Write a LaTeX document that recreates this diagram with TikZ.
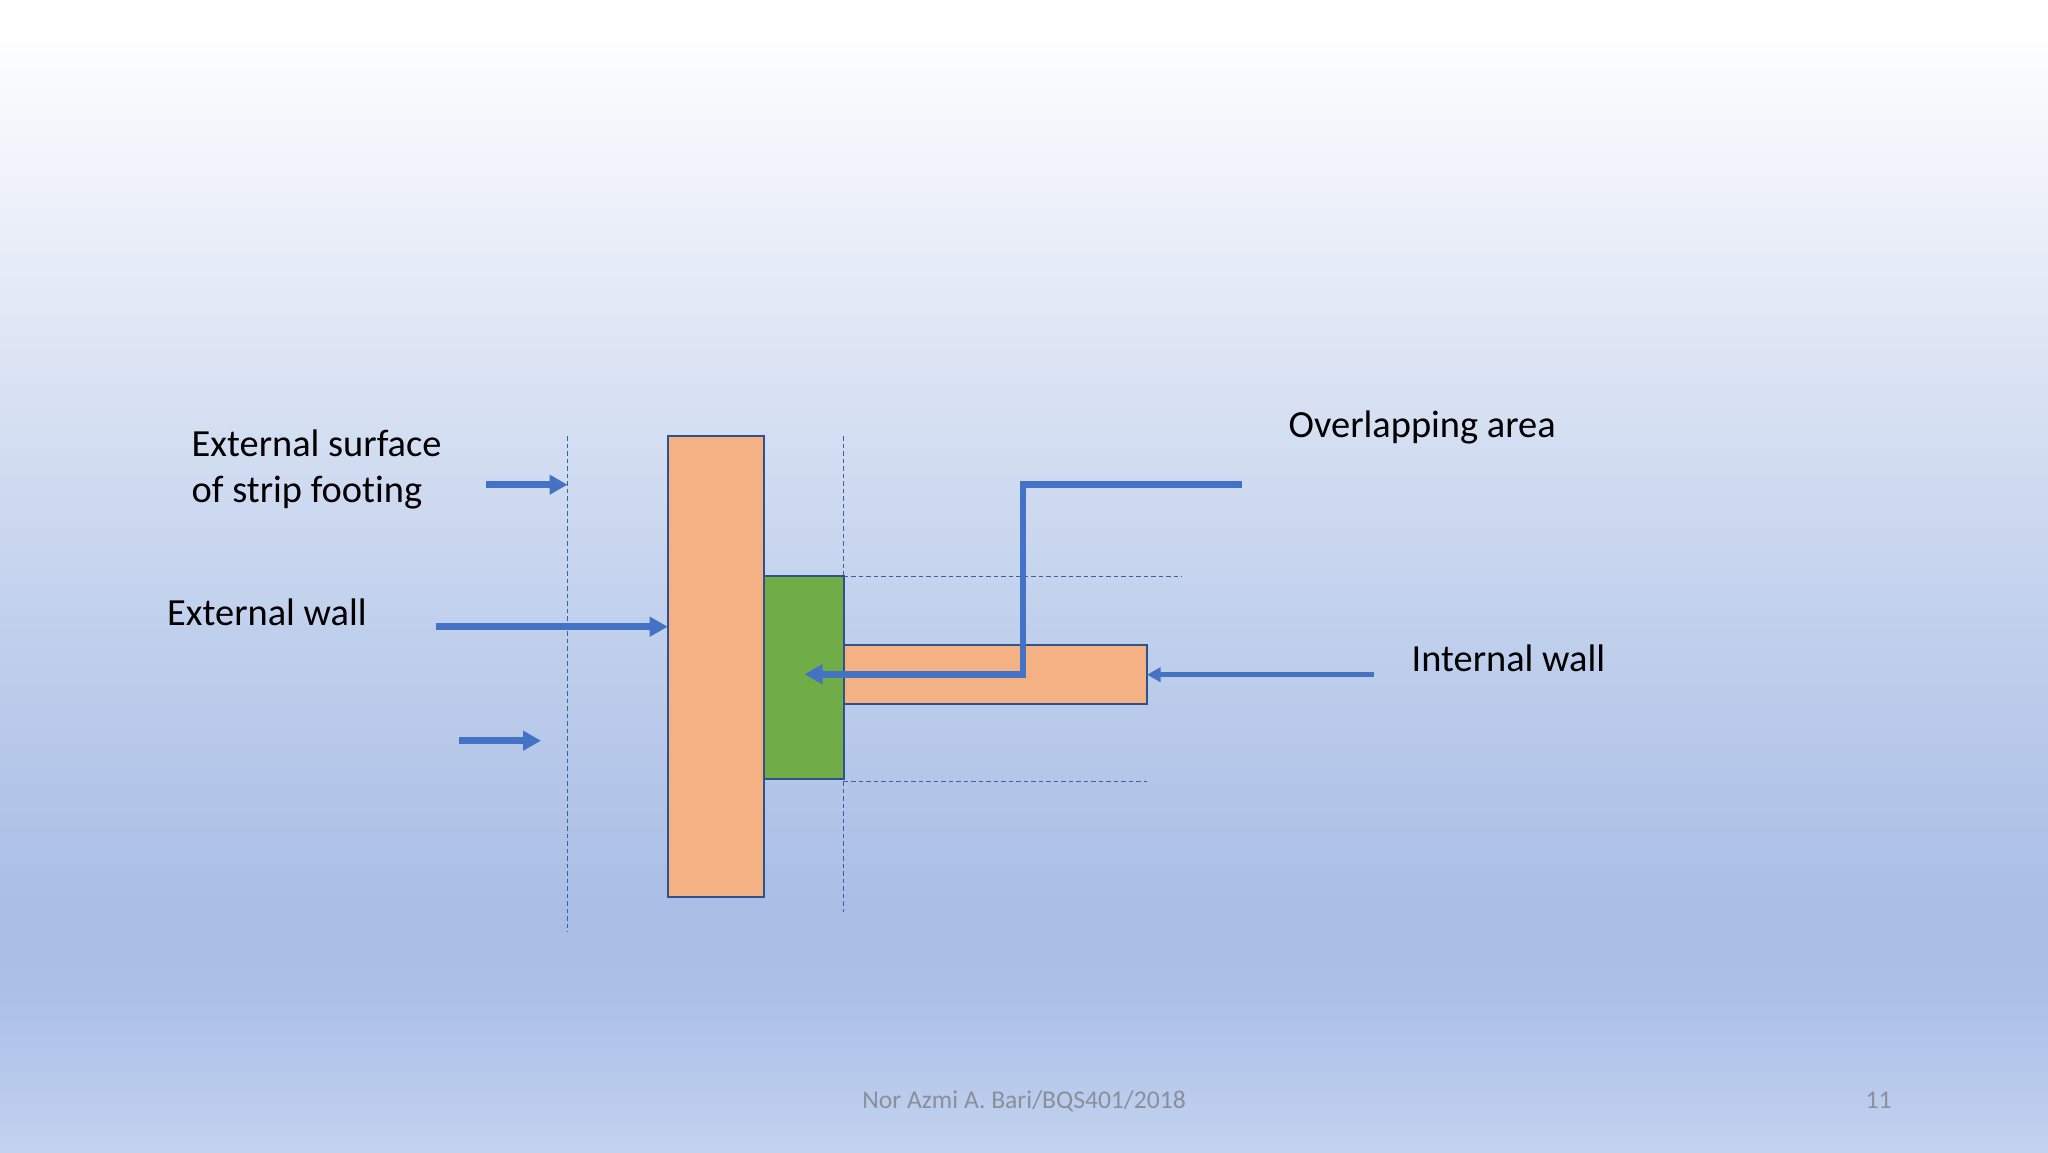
\documentclass[tikz,border=0pt]{standalone}
\usepackage{fontspec}
\setmainfont[RawFeature=-liga]{Carlito}
\usetikzlibrary{arrows.meta}
\definecolor{wallfill}{HTML}{F4B183}
\definecolor{overlap}{HTML}{70AD47}
\definecolor{edge}{HTML}{2F528F}
\definecolor{arrowblue}{HTML}{4472C4}
\definecolor{footgray}{HTML}{8A8F99}
\definecolor{bgA}{HTML}{C2D2EF}
\definecolor{bgB}{HTML}{AEC1E8}
\definecolor{bgC}{HTML}{A9BDE5}
\definecolor{bgD}{HTML}{BFCFEC}
\definecolor{bgE}{HTML}{DCE4F4}
\definecolor{bgF}{HTML}{F5F7FC}
\pgfdeclareverticalshading{slidebg}{100bp}{
 color(0bp)=(bgA);
 color(25bp)=(bgA);
 color(31bp)=(bgB);
 color(35bp)=(bgC);
 color(47.2bp)=(bgD);
 color(59.4bp)=(bgE);
 color(69.8bp)=(bgF);
 color(74bp)=(white);
 color(100bp)=(white)}
\tikzset{
 wall/.style={draw=edge,line width=2pt,fill=wallfill,inner sep=0pt,outer sep=0pt,anchor=north west},
 greenbox/.style={draw=edge,line width=2pt,fill=overlap,inner sep=0pt,outer sep=0pt,anchor=north west},
 guide/.style={draw=arrowblue!85!black,line width=1pt,dash pattern=on 4.5pt off 3pt},
 thickarrow/.style={draw=arrowblue,line width=6.5pt,-{Triangle[length=18pt,width=19pt]}},
 thinarrow/.style={draw=arrowblue,line width=4.8pt,-{Triangle[length=13.5pt,width=14pt]}},
 label/.style={font=\fontsize{38.4}{46}\selectfont,text=black,anchor=base west,inner sep=0pt,align=left},
 foot/.style={font=\fontsize{25.6}{30}\selectfont,text=footgray,anchor=base,inner sep=0pt}
}
\begin{document}
\begin{tikzpicture}[x=1pt,y=-1pt]
\useasboundingbox (0,0) rectangle (2048,1152);
\shade[shading=slidebg] (0,0) rectangle (2048,1152);
\coordinate (gl1) at (567.3,436);
\coordinate (gl2) at (567.3,932);
\coordinate (gr1) at (843.7,436);
\coordinate (gr2) at (843.7,912);
\coordinate (gt1) at (843.7,576);
\coordinate (gt2) at (1182,576);
\coordinate (gb1) at (843.7,781.3);
\coordinate (gb2) at (1147,781.3);
\draw[guide] (gl1) -- (gl2);
\draw[guide] (gr1) -- (gr2);
\draw[guide] (gt1) -- (gt2);
\draw[guide] (gb1) -- (gb2);
\node[wall,minimum width=96pt,minimum height=461pt] (ext) at (667.7,436) {};
\node[greenbox,minimum width=80pt,minimum height=203.3pt] (grn) at (763.7,575.7) {};
\node[wall,minimum width=303.3pt,minimum height=58.4pt] (int) at (843.7,645.3) {};
\coordinate (a1s) at (485.7,484.7);
\coordinate (a1e) at (567.5,484.7);
\coordinate (a2s) at (435.7,626.7);
\coordinate (a2e) at (667.7,626.7);
\coordinate (a3s) at (459,740.7);
\coordinate (a3e) at (541,740.7);
\coordinate (a4s) at (1373.5,674.7);
\coordinate (a4e) at (1147,674.7);
\coordinate (o1) at (1242,484.7);
\coordinate (o2) at (1023,484.7);
\coordinate (o3) at (1023,674.3);
\coordinate (o4) at (804.5,674.3);
\draw[thickarrow] (a1s) -- (a1e);
\draw[thickarrow] (a2s) -- (a2e);
\draw[thickarrow] (a3s) -- (a3e);
\draw[thinarrow] (a4s) -- (a4e);
\draw[thickarrow,line join=miter] (o1) -- (o2) -- (o3) -- (o4);
\node[label] (t1) at (191.5,456.3) {External surface};
\node[label] (t1b) at (191.5,502.3) {of strip footing};
\node[label] (t2) at (167,625) {External wall};
\node[label] (t3) at (1288.5,437) {Overlapping area};
\node[label] (t4) at (1411.5,671) {Internal wall};
\node[foot] (f1) at (1024,1108) {Nor Azmi A. Bari/BQS401/2018};
\node[foot] (f2) at (1878.5,1108) {11};
\end{tikzpicture}
\end{document}
